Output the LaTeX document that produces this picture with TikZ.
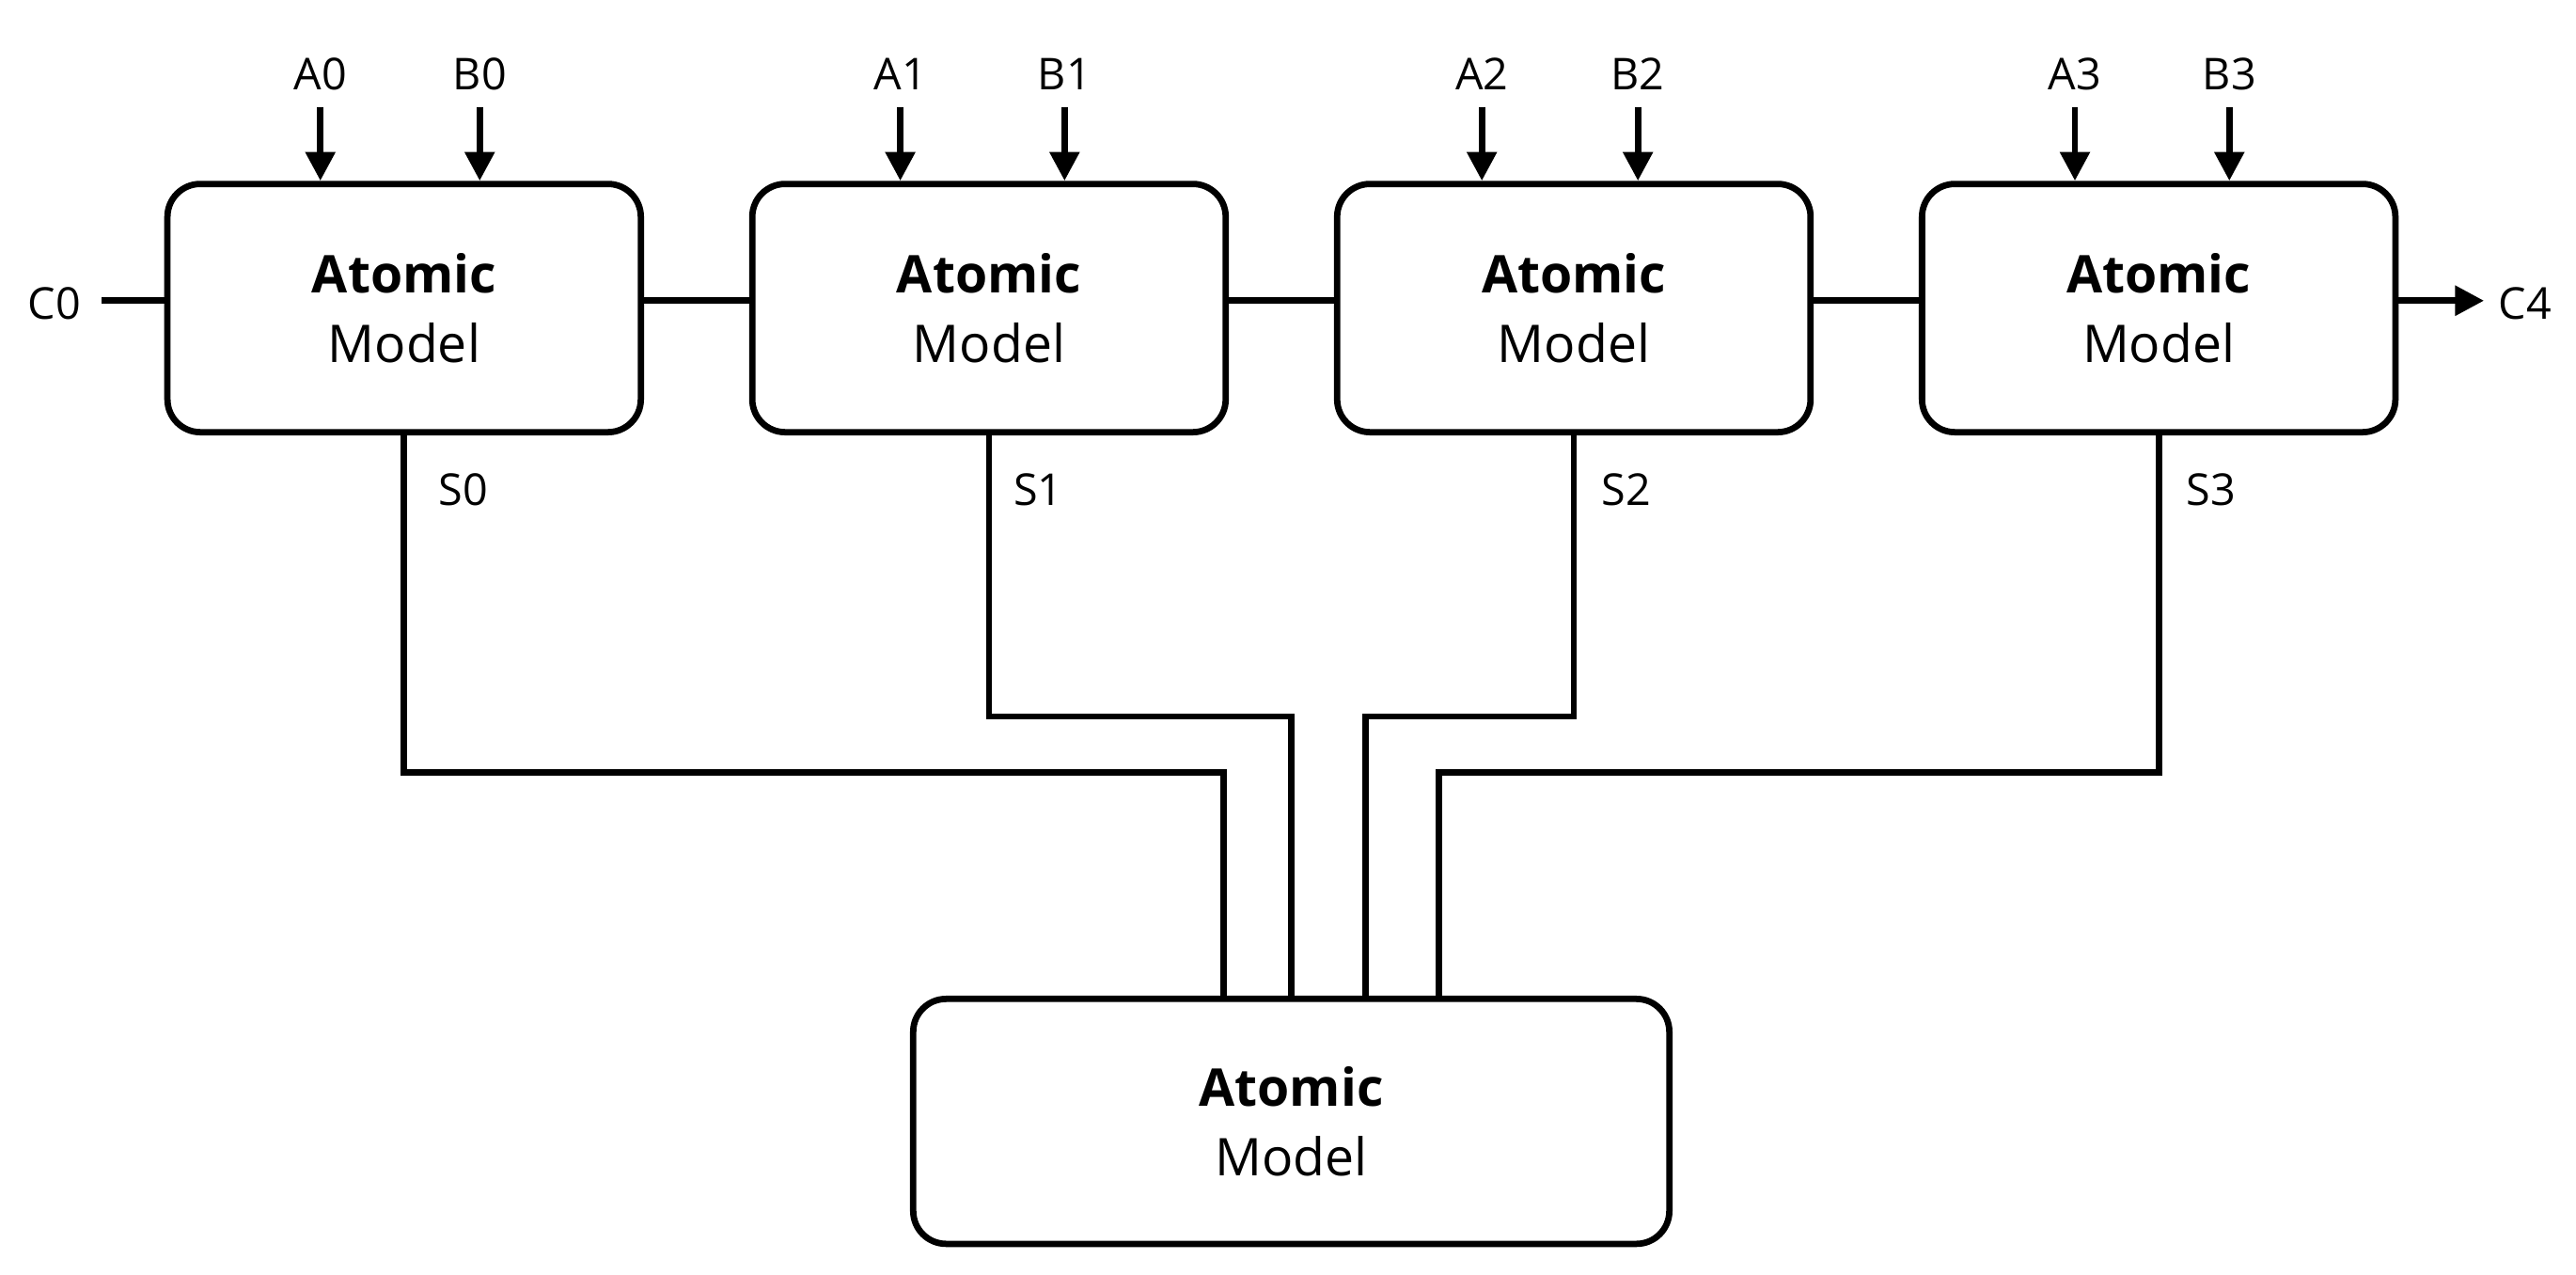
\documentclass[tikz,border=0pt]{standalone}
\usepackage{fontspec}
\setmainfont{Open Sans}
\usetikzlibrary{arrows.meta}
\begin{document}
\begin{tikzpicture}[x=0.01cm,y=-0.01cm,line width=1.1pt,
  box/.style={draw,rounded corners=0.2cm,minimum width=2.88cm,minimum height=1.51cm,align=center,inner sep=0pt,font=\fontsize{9}{12}\selectfont},
  lbl/.style={font=\fontsize{7.6}{9}\selectfont,inner sep=1pt},
  arr/.style={-{Triangle[length=5pt,width=5pt]}}]
\useasboundingbox (0,0) rectangle (1568,776);
\foreach \i/\x in {0/246,1/602,2/958,3/1314}{
  \node[box] (m\i) at (\x,187.5) {\textbf{Atomic}\\Model};
}
\node[box,minimum width=4.6cm,minimum height=1.49cm] (mb) at (786,682.5) {\textbf{Atomic}\\Model};
\foreach \i/\a/\b in {0/195/292,1/548/648,2/902/997,3/1263/1357}{
  \node[lbl] (A\i) at (\a,45) {A\i};
  \node[lbl] (B\i) at (\b,45) {B\i};
  \coordinate (a\i) at (\a,65); \coordinate (b\i) at (\b,65);
  \draw[arr] (a\i) -- (a\i |- m\i.north);
  \draw[arr] (b\i) -- (b\i |- m\i.north);
}
\node[lbl] (C0) at (33,185) {C0};
\coordinate (c0) at (62,183);
\draw (c0) -- (c0 -| m0.west);
\draw (m0.east |- 0,183) -- (m1.west |- 0,183);
\draw (m1.east |- 0,183) -- (m2.west |- 0,183);
\draw (m2.east |- 0,183) -- (m3.west |- 0,183);
\node[lbl] (C4) at (1537,185) {C4};
\draw[arr] (m3.east |- 0,183) -- (1512,183);
\node[lbl] (S0) at (282,298) {S0};
\node[lbl] (S1) at (632,298) {S1};
\node[lbl] (S2) at (990,298) {S2};
\node[lbl] (S3) at (1346,298) {S3};
\draw (m0.south) -- (246,470) -- (745,470) -- (745,0 |- mb.north);
\draw (m1.south) -- (602,436) -- (786,436) -- (786,0 |- mb.north);
\draw (m2.south) -- (958,436) -- (831,436) -- (831,0 |- mb.north);
\draw (m3.south) -- (1314,470) -- (876,470) -- (876,0 |- mb.north);
\end{tikzpicture}
\end{document}
